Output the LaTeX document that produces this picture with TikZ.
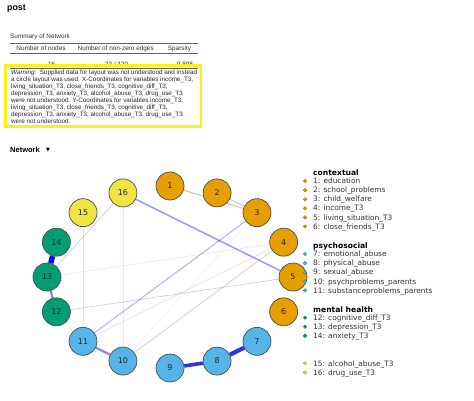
\documentclass[tikz,border=0pt]{standalone}
\usepackage{fontspec}
\setmainfont{Liberation Sans}
\newfontfamily\plotfont{DejaVu Sans}
\usetikzlibrary{backgrounds}
\definecolor{ctxorange}{HTML}{E69F00}
\definecolor{psyblue}{HTML}{56B4E9}
\definecolor{mhgreen}{HTML}{009E73}
\definecolor{subyellow}{HTML}{F0E442}
\definecolor{posedge}{HTML}{1010D8}
\definecolor{negedge}{HTML}{D0583C}
\definecolor{warnyellow}{HTML}{F4F41C}
\tikzset{
  varnode/.style={circle,draw=black!70,line width=0.7pt,minimum size=28pt,inner sep=0pt,
    font=\plotfont\fontsize{8}{9}\selectfont,text=black!85},
  posline/.style={draw=posedge},
  negline/.style={draw=negedge},
  legdot/.style={circle,line width=0.3pt,minimum size=3.4pt,inner sep=0pt},
  legtext/.style={anchor=base west,inner sep=0pt,font=\plotfont\fontsize{7.4}{9}\selectfont,text=black!80},
  leghead/.style={anchor=base west,inner sep=0pt,font=\plotfont\bfseries\fontsize{7.6}{9}\selectfont,text=black},
  smalltext/.style={inner sep=0pt,font=\fontsize{6.4}{7}\selectfont,text=black!80},
  rule/.style={draw=black!60,line width=0.6pt}
}

\begin{document}
\begin{tikzpicture}[x=1pt,y=-1pt]
\useasboundingbox (0,0) rectangle (474,401);

% summary
\node[anchor=base west,inner sep=0pt,font=\bfseries\fontsize{8.8}{10}\selectfont] (title) at (7,10.5) {post};
\node[smalltext,anchor=base west] (sumhead) at (10,38.5) {Summary of Network};
\draw[rule] (10,43.3) -- (198,43.3);
\node[smalltext,anchor=base] (colnodes) at (41,51) {Number of nodes};
\node[smalltext,anchor=base] (coledges) at (115.7,51) {Number of non-zero edges};
\node[smalltext,anchor=base] (colspars) at (179.5,51) {Sparsity};
\draw[rule] (10,53.3) -- (198,53.3);
\node[smalltext,anchor=base] (valnodes) at (51.7,67) {16};
\node[smalltext,anchor=base] (valedges) at (116.7,67) {23 / 120};
\node[smalltext,anchor=base] (valspars) at (185,67) {0.808};

% warning box
\draw[warnyellow,line width=2.2pt,fill=white] (5.5,65.5) rectangle (201,126.5);
\draw[rule] (10,68.3) -- (198,68.3);
\node[anchor=north west,inner sep=0pt,align=left,text=black!85,
  font=\fontsize{6.3}{6.95}\selectfont] (warning) at (11,69.6)
  {\textit{Warning:}~~Supplied data for layout was not understood and instead\\
   a circle layout was used. X-Coordinates for variables income\_T3,\\
   living\_situation\_T3, close\_friends\_T3, cognitive\_diff\_T3,\\
   depression\_T3, anxiety\_T3, alcohol\_abuse\_T3, drug\_use\_T3\\
   were not understood. Y-Coordinates for variables income\_T3,\\
   living\_situation\_T3, close\_friends\_T3, cognitive\_diff\_T3,\\
   depression\_T3, anxiety\_T3, alcohol\_abuse\_T3, drug\_use\_T3\\
   were not understood.};

\node[anchor=base west,inner sep=0pt,font=\bfseries\fontsize{7.5}{9}\selectfont] (nethead) at (10,153) {Network};
\node[anchor=base west,inner sep=0pt,font=\plotfont\fontsize{5}{6}\selectfont] (netarrow) at (46,152) {▼};

% network nodes on the ellipse
\foreach \k/\c in {1/ctxorange,2/ctxorange,3/ctxorange,4/ctxorange,5/ctxorange,6/ctxorange,
    7/psyblue,8/psyblue,9/psyblue,10/psyblue,11/psyblue,
    12/mhgreen,13/mhgreen,14/mhgreen,15/subyellow,16/subyellow}
  \node[varnode,fill=\c] (n\k) at ({170+123*cos(90-22.5*(\k-1))},{277-91*sin(90-22.5*(\k-1))}) {\k};

% edges
\begin{scope}[on background layer]
\draw[posline,line width=5.5pt] (n14) -- (n13);
\draw[posline,line width=4.2pt,draw opacity=0.85] (n7) -- (n8);
\draw[posline,line width=3.6pt,draw opacity=0.85] (n8) -- (n9);
\draw[posline,line width=2.2pt,draw opacity=0.5] (n13) -- (n12);
\draw[posline,line width=2.2pt,draw opacity=0.5] (n11) -- (n10);
\draw[posline,line width=1.6pt,draw opacity=0.4] (n16) -- (n5);
\draw[posline,line width=1.1pt,draw opacity=0.3] (n3) -- (n11);
\draw[posline,line width=1pt,draw opacity=0.25] (n2) -- (n3);
\draw[negline,line width=1.1pt,draw opacity=0.4] (n1) -- (n3);
\draw[negline,line width=0.9pt,draw opacity=0.3] (n4) -- (n10);
\draw[negline,line width=0.8pt,draw opacity=0.2] (n4) -- (n11);
\draw[negline,line width=0.7pt,draw opacity=0.15] (n4) -- (n13);
\draw[posline,line width=0.8pt,draw opacity=0.2] (n5) -- (n12);
\draw[posline,line width=0.8pt,draw opacity=0.2] (n16) -- (n13);
\draw[posline,line width=0.6pt,draw opacity=0.12] (n15) -- (n14);
\draw[posline,line width=0.7pt,draw opacity=0.12] (n15) -- (n11);
\draw[posline,line width=0.7pt,draw opacity=0.1] (n16) -- (n10);
\draw[posline,line width=0.6pt,draw opacity=0.08] (n3) -- (n10);
\end{scope}

% legend
\node[leghead] (headctx) at (313,175.5) {contextual};
\node[leghead] (headpsy) at (313,248.5) {psychosocial};
\node[leghead] (headmh) at (313,312.5) {mental health};
\foreach \y/\c/\t in {181/ctxorange/{1: education},190.1/ctxorange/{2: school\_problems},
    199.2/ctxorange/{3: child\_welfare},208.3/ctxorange/{4: income\_T3},
    217.4/ctxorange/{5: living\_situation\_T3},226.5/ctxorange/{6: close\_friends\_T3},
    254/psyblue/{7: emotional\_abuse},263.1/psyblue/{8: physical\_abuse},
    272.2/psyblue/{9: sexual\_abuse},281.3/psyblue/{10: psychproblems\_parents},
    290.4/psyblue/{11: substanceproblems\_parents},
    317.7/mhgreen/{12: cognitive\_diff\_T3},326.8/mhgreen/{13: depression\_T3},
    335.9/mhgreen/{14: anxiety\_T3},
    363.3/subyellow/{15: alcohol\_abuse\_T3},372.4/subyellow/{16: drug\_use\_T3}}
{
  \node[legdot,fill=\c,draw=\c!60!black] at (305,\y) {};
  \node[legtext] at (313,\y+2.7) {\t};
}
\end{tikzpicture}
\end{document}
